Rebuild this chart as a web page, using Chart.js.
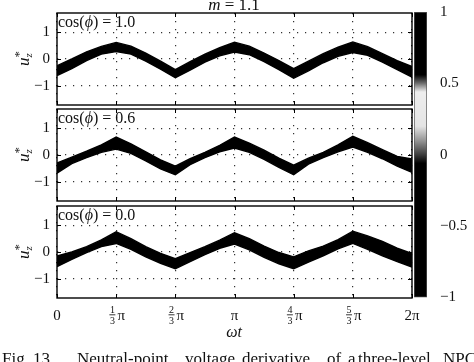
<!DOCTYPE html>
<html><head><meta charset="utf-8">
<script src="https://cdn.jsdelivr.net/npm/chart.js@4.4.1/dist/chart.umd.min.js"></script>
<style>
html,body{margin:0;padding:0;background:#fff;}
#wrap{position:relative;width:474px;height:362px;overflow:hidden;background:#fff;}
canvas{position:absolute;}
.w{position:absolute;top:350px;font:17px/17px "Liberation Serif",serif;color:#111;white-space:nowrap;}
</style></head><body>
<div id="wrap">
<canvas id="c1" width="474" height="108" style="left:0;top:0"></canvas>
<canvas id="c2" width="474" height="100" style="left:0;top:105px"></canvas>
<canvas id="c3" width="474" height="160" style="left:0;top:202px"></canvas>
<canvas id="cb" width="69" height="310" style="left:405px;top:0"></canvas>
</div>
<script>
// ---- data (x in units of pi/3) ----
const omegaT = [0,0.25,0.5,0.75,1,1.25,1.5,1.75,2,2.25,2.5,2.75,3,3.25,3.5,3.75,4,4.25,4.5,4.75,5,5.25,5.5,5.75,6];
const upper1 = [-0.25,0.0,0.27,0.47,0.62,0.48,0.22,-0.08,-0.4,-0.1,0.18,0.42,0.63,0.48,0.22,-0.06,-0.36,-0.08,0.2,0.44,0.64,0.46,0.2,-0.06,-0.28];
const lower1 = [-0.62,-0.36,-0.06,0.18,0.28,0.18,-0.08,-0.38,-0.7,-0.42,-0.12,0.12,0.26,0.16,-0.1,-0.4,-0.72,-0.44,-0.14,0.1,0.24,0.14,-0.12,-0.4,-0.68];
const upper2 = [-0.3,-0.08,0.14,0.38,0.67,0.42,0.12,-0.18,-0.42,-0.14,0.1,0.36,0.67,0.44,0.18,-0.12,-0.38,-0.12,0.1,0.38,0.7,0.46,0.2,-0.05,-0.15];
const lower2 = [-0.68,-0.32,-0.1,0.1,0.22,0.06,-0.22,-0.52,-0.74,-0.36,-0.1,0.12,0.26,0.1,-0.16,-0.46,-0.74,-0.34,-0.1,0.12,0.3,0.1,-0.14,-0.42,-0.65];
const upper3 = [-0.15,0.0,0.2,0.45,0.76,0.5,0.2,-0.05,-0.25,-0.02,0.2,0.44,0.72,0.5,0.22,-0.02,-0.18,0.04,0.22,0.46,0.78,0.6,0.4,0.14,-0.06];
const lower3 = [-0.55,-0.28,-0.02,0.2,0.32,0.1,-0.18,-0.42,-0.63,-0.36,-0.1,0.14,0.3,0.08,-0.2,-0.44,-0.63,-0.38,-0.14,0.12,0.32,0.1,-0.14,-0.36,-0.56];
const cosPhi = ['1.0','0.6','0.0'];
const xTicks = [0,1,2,3,4,5,6];
const xTickNum = ['','1','2','','4','5',''];
const xTickDen = ['','3','3','','3','3',''];
const xTickSym = ['0','π','π','π','π','π','2π'];
const yTicks = [-1,0,1];
const yTickLabels = ['−1','0','1'];
const cbTicks = [-1,-0.5,0,0.5,1];
const cbTickLabels = ['−1','−0.5','0','0.5','1'];
const cbStops = [1,0.56,0.5,0.44,0.2,0.1,0.0,-0.06,-1];
const cbGrays = [0,0,110,238,228,150,60,0,0];
const titleM = '1.1';

const F = '"Liberation Serif", serif';
const pads = [[13,3],[4,4],[4,64]];

function line(ctx,x1,y1,x2,y2){ctx.beginPath();ctx.moveTo(x1,y1);ctx.lineTo(x2,y2);ctx.stroke();}

const panelDeco = {
  id:'panelDeco',
  afterDraw(chart, args, opts){
    const {ctx, chartArea:a, scales:{x,y}} = chart;
    const idx = opts.idx;
    ctx.save();
    ctx.strokeStyle='#000'; ctx.lineWidth=1;
    yTicks.forEach(v=>{const py=Math.round(y.getPixelForValue(v))+0.5; line(ctx,a.left,py,a.left+4,py); line(ctx,a.right-4,py,a.right,py);});
    xTicks.forEach(v=>{const px=Math.round(x.getPixelForValue(v))+0.5; line(ctx,px,a.top,px,a.top+4); line(ctx,px,a.bottom-4,px,a.bottom);});
    ctx.lineWidth=1.4;
    ctx.strokeRect(a.left, a.top, a.right-a.left, a.bottom-a.top);
    ctx.fillStyle='#111'; ctx.textBaseline='alphabetic';
    let px=a.left+1, by=a.top+14;
    const parts=[['cos(', 'normal'],['ϕ','italic'],[') = '+cosPhi[idx],'normal']];
    parts.forEach(p=>{ctx.font=p[1]+' 16px '+F; ctx.textAlign='left'; ctx.fillText(p[0],px,by); px+=ctx.measureText(p[0]).width;});
    ctx.save();
    ctx.translate(29,(a.top+a.bottom)/2);
    ctx.rotate(-Math.PI/2);
    ctx.font='italic 17px '+F; const wu=ctx.measureText('u').width;
    ctx.textAlign='left';
    ctx.fillText('u',-7,0);
    ctx.font='italic 11px '+F; ctx.fillText('z',-7+wu,3);
    ctx.font='13px '+F; ctx.fillText('*',-7+wu,-6);
    ctx.restore();
    if(idx===0){
      ctx.font='italic 17px '+F; const wm=ctx.measureText('m').width;
      ctx.font='17px '+F; const rest=' = '+titleM; const wr=ctx.measureText(rest).width;
      const sx=234-(wm+wr)/2;
      ctx.textAlign='left';
      ctx.font='italic 17px '+F; ctx.fillText('m',sx,9.5);
      ctx.font='17px '+F; ctx.fillText(rest,sx+wm,9.5);
    }
    if(idx===2){
      const b=a.bottom;
      xTicks.forEach((v,i)=>{
        const cx=x.getPixelForValue(v);
        ctx.font='15px '+F;
        const ws=ctx.measureText(xTickSym[i]).width;
        if(xTickNum[i]){
          ctx.font='10px '+F;
          const wf=Math.max(ctx.measureText(xTickNum[i]).width, ctx.measureText(xTickDen[i]).width)+1;
          const tot=wf+2+ws; const sx=cx-tot/2+1;
          ctx.textAlign='center';
          ctx.fillText(xTickNum[i], sx+wf/2, b+15);
          ctx.fillText(xTickDen[i], sx+wf/2, b+25.5);
          ctx.lineWidth=0.8; line(ctx,sx,b+16.8,sx+wf,b+16.8);
          ctx.font='15px '+F; ctx.textAlign='left';
          ctx.fillText(xTickSym[i], sx+wf+2, b+22);
        } else {
          ctx.textAlign='center';
          ctx.fillText(xTickSym[i], cx, b+22);
        }
      });
      ctx.font='italic 16px '+F; ctx.textAlign='center';
      ctx.fillText('ωt', 234, b+39);
    }
    ctx.restore();
  }
};

function makePanel(id, upper, lower, idx){
  return new Chart(document.getElementById(id), {
    type:'line',
    data:{datasets:[
      {data:upper.map((v,i)=>({x:omegaT[i],y:v})), borderColor:'#000', backgroundColor:'#000', borderWidth:1.4, pointRadius:0, fill:'+1', tension:0},
      {data:lower.map((v,i)=>({x:omegaT[i],y:v})), borderColor:'#000', backgroundColor:'#000', borderWidth:1.4, pointRadius:0, fill:false, tension:0}
    ]},
    options:{
      responsive:false, animation:false, events:[],
      layout:{padding:{top:pads[idx][0], bottom:pads[idx][1], left:0, right:62}},
      plugins:{legend:{display:false}, tooltip:{enabled:false}, panelDeco:{idx}},
      scales:{
        x:{type:'linear', min:0, max:6,
           afterBuildTicks:s=>{s.ticks=xTicks.map(v=>({value:v}));},
           afterFit:s=>{s.height=0; s.paddingLeft=0; s.paddingRight=0;},
           ticks:{display:false},
           grid:{color:'#333', lineWidth:1.2, drawTicks:false},
           border:{display:false, dash:[1.2,6.8]}},
        y:{type:'linear', min:-1.72, max:1.72,
           afterBuildTicks:s=>{s.ticks=yTicks.map(v=>({value:v}));},
           afterFit:s=>{s.width=57; s.paddingTop=0; s.paddingBottom=0;},
           ticks:{padding:7, color:'#111', font:{family:F, size:15}, callback:v=>yTickLabels[yTicks.indexOf(v)]},
           grid:{color:'#333', lineWidth:1.2, drawTicks:false},
           border:{display:false, dash:[1.2,6.8]}}
      }
    },
    plugins:[panelDeco]
  });
}
makePanel('c1', upper1, lower1, 0);
makePanel('c2', upper2, lower2, 1);
makePanel('c3', upper3, lower3, 2);

function cbGradient(chart){
  const y=chart.scales.y;
  if(!chart.chartArea||!y) return '#000';
  const y1=y.getPixelForValue(1), y0=y.getPixelForValue(-1);
  const g=chart.ctx.createLinearGradient(0,y1,0,y0);
  cbStops.forEach((v,i)=>{const c=cbGrays[i]; g.addColorStop((1-v)/2,'rgb('+c+','+c+','+c+')');});
  return g;
}
new Chart(document.getElementById('cb'), {
  type:'bar',
  data:{labels:[''], datasets:[{data:[[-1,1]], backgroundColor:c=>cbGradient(c.chart), borderColor:'#555', borderWidth:1, borderSkipped:false, barPercentage:1, categoryPercentage:1}]},
  options:{
    responsive:false, animation:false, events:[],
    layout:{padding:{left:9, top:12, bottom:12.5, right:0}},
    plugins:{legend:{display:false}, tooltip:{enabled:false}},
    scales:{
      x:{display:false},
      y:{position:'right', min:-1, max:1,
         afterBuildTicks:s=>{s.ticks=cbTicks.map(v=>({value:v}));},
         afterFit:s=>{s.width=47; s.paddingTop=0; s.paddingBottom=0;},
         grid:{display:false}, border:{display:false},
         ticks:{padding:5, color:'#111', font:{family:F, size:15}, callback:v=>cbTickLabels[cbTicks.indexOf(v)]}}
    }
  }
});

// caption (cut off at the bottom like the reference)
const capWords = [['Fig.',2],['13.',33],['Neutral-point',77],['voltage',185],['derivative',242],['of',327],['a',348],['three-level',358],['NPC',443]];
capWords.forEach(w=>{const s=document.createElement('span'); s.className='w'; s.style.left=w[1]+'px'; s.textContent=w[0]; document.getElementById('wrap').appendChild(s);});
</script>
</body></html>
